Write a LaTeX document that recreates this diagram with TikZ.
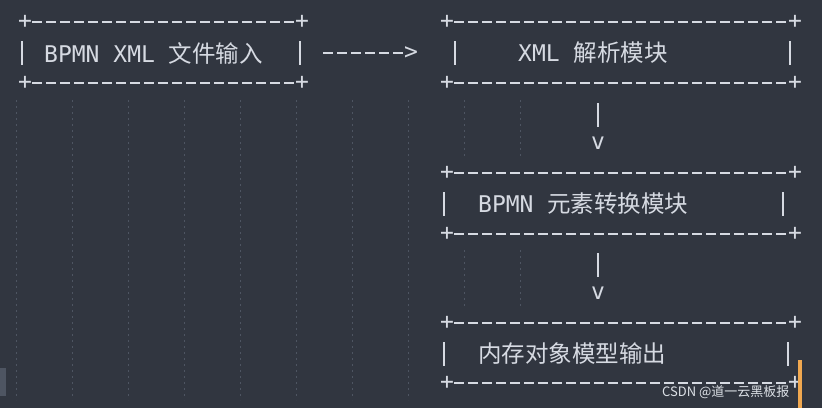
\documentclass[tikz,border=0pt]{standalone}
\usepackage{fontspec}
\setmainfont{DejaVu Sans Mono}[Ligatures=ResetAll]
\newfontfamily\cjk{Noto Sans CJK SC}
\definecolor{bg}{HTML}{313640}
\definecolor{fg}{HTML}{D6DAE2}
\definecolor{grd}{HTML}{4E5562}
\definecolor{org}{HTML}{F0A850}
\begin{document}
\begin{tikzpicture}[x=1pt,y=-1pt,
  txt/.style={text=fg,font=\fontsize{23}{23}\selectfont,inner sep=0pt,anchor=west},
  cjf/.style={font=\cjk\fontsize{23.5}{23.5}\selectfont},
  edge/.style={draw=fg,line width=1.8pt,dash pattern=on 10pt off 4pt},
  bar/.style={draw=fg,line width=1.8pt},
  grid/.style={draw=grd,line width=1pt,dash pattern=on 2pt off 4pt}]
\fill[bg] (0,0) rectangle (822,408);
\useasboundingbox (0,0) rectangle (822,408);
% faint guides
\foreach \x in {16,72,128,184,240,296,352,408}{\draw[grid] (\x,100) -- (\x,400);}
\foreach \x in {464,520}{\draw[grid] (\x,100) -- (\x,158);\draw[grid] (\x,250) -- (\x,308);}
% box frames
\newcommand\frameline[3]{%
  \draw[edge] (#1+7,#3) -- (#2-7,#3);
  \node[txt,anchor=center] at (#1,#3) {+};
  \node[txt,anchor=center] at (#2,#3) {+};}
\frameline{25}{302}{22}\frameline{25}{302}{83}
\frameline{447}{795}{22}\frameline{447}{795}{83}
\frameline{447}{795}{173}\frameline{447}{795}{234}
\frameline{447}{795}{323}\frameline{447}{795}{383}
% sides
\foreach \x/\y in {22/53,300/53,455/53,790/53,444/204,783/204,444/354,788/354}{
  \draw[bar] (\x,\y-12) -- (\x,\y+12);}
% texts
\node[txt] (in) at (44,53) {BPMN XML {\cjk\fontsize{23.5}{23.5}\selectfont 文件输入}};
\node[txt] (xml) at (518,53) {XML {\cjk\fontsize{23.5}{23.5}\selectfont 解析模块}};
\node[txt] (conv) at (478,204) {BPMN {\cjk\fontsize{23.5}{23.5}\selectfont 元素转换模块}};
\node[txt,cjf] (out) at (478,354) {内存对象模型输出};
% connectors
\coordinate (a0) at (323,53);
\node[txt] (ah) at (404,53) {>};
\draw[edge] (a0) -- (ah.west);
\draw[bar] (598,103) -- (598,127);
\node[txt,anchor=center] (v1) at (598,143) {v};
\draw[bar] (598,253) -- (598,277);
\node[txt,anchor=center] (v2) at (598,293) {v};
% decorations
\fill[org] (798,360) rectangle (802,408);
\fill[grd] (0,368) rectangle (6,396);
\node[text=fg!85,font=\cjk\fontsize{13}{13}\selectfont,inner sep=0pt,anchor=west] at (662,392) {CSDN @道一云黑板报};
\end{tikzpicture}
\end{document}
